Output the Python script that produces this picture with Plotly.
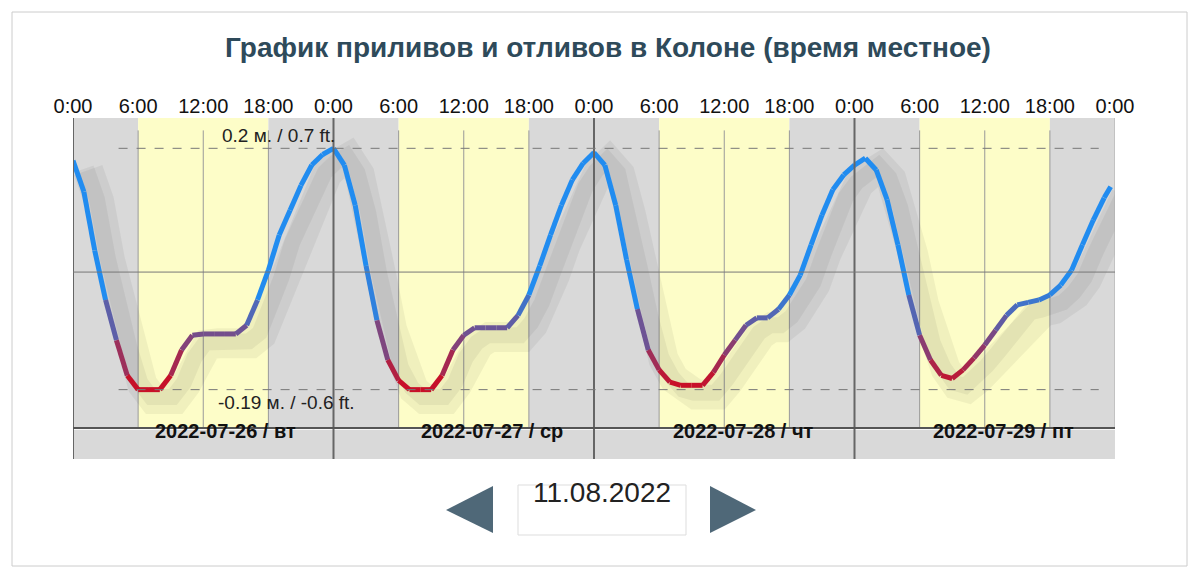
import plotly.graph_objects as go

# tide heights (m), hourly, 4 days from 2022-07-26 0:00
hours = list(range(0, 96)) + [95.6]
heights = [
    0.18, 0.13, 0.035, -0.045, -0.11, -0.167, -0.19, -0.19, -0.19, -0.167, -0.126, -0.102,
    -0.1, -0.1, -0.1, -0.1, -0.086, -0.045, 0.003, 0.06, 0.10, 0.14, 0.173, 0.19,
    0.20, 0.173, 0.108, 0.01, -0.078, -0.142, -0.175, -0.19, -0.19, -0.19, -0.167, -0.126,
    -0.102, -0.09, -0.09, -0.09, -0.09, -0.07, -0.037, 0.01, 0.06, 0.108, 0.149, 0.176,
    0.193, 0.173, 0.108, 0.02, -0.06, -0.126, -0.158, -0.178, -0.183, -0.183, -0.183, -0.162,
    -0.134, -0.11, -0.086, -0.074, -0.074, -0.06, -0.037, -0.005, 0.044, 0.092, 0.133, 0.157,
    0.173, 0.184, 0.165, 0.117, 0.044, -0.037, -0.102, -0.142, -0.167, -0.172, -0.158, -0.139,
    -0.118, -0.094, -0.07, -0.053, -0.049, -0.045, -0.037, -0.021, 0.003, 0.044, 0.084, 0.12,
    0.138,
]
tick_hours = list(range(0, 97, 6))
tick_text = ["0:00", "6:00", "12:00", "18:00"] * 4 + ["0:00"]
day_labels = ["2022-07-26 / вт", "2022-07-27 / ср", "2022-07-28 / чт", "2022-07-29 / пт"]
hi_label = "0.2 м. / 0.7 ft."
lo_label = "-0.19 м. / -0.6 ft."

Y0, Y1 = -0.252, 0.249
fig = go.Figure()


def mix(v):
    # blue at high tide -> red at low tide
    t = min(max((v + 0.02) / -0.16, 0), 1)
    b = (33, 140, 240)
    r = (200, 16, 40)
    return "rgb(%d,%d,%d)" % tuple(int(b[i] + (r[i] - b[i]) * t) for i in range(3))


# soft shadow
fig.add_trace(go.Scatter(x=[h + 1.4 for h in hours], y=[v - 0.015 for v in heights], mode="lines",
                         line=dict(color="rgba(0,0,0,0.05)", width=30), hoverinfo="skip"))
fig.add_trace(go.Scatter(x=[h + 1.2 for h in hours], y=[v - 0.012 for v in heights], mode="lines",
                         line=dict(color="rgba(0,0,0,0.05)", width=16), hoverinfo="skip"))

for i in range(len(hours) - 1):
    fig.add_trace(go.Scatter(x=hours[i:i + 2], y=heights[i:i + 2], mode="lines",
                             line=dict(color=mix((heights[i] + heights[i + 1]) / 2), width=5),
                             hoverinfo="skip"))

shapes = []
for d in range(4):
    s = d * 24
    for a, b, c in [(s, s + 6, "#d9d9d9"), (s + 6, s + 18, "#fdfdc8"), (s + 18, s + 24, "#d9d9d9")]:
        shapes.append(dict(type="rect", xref="x", yref="paper", x0=a, x1=b, y0=0, y1=1,
                           fillcolor=c, line_width=0, layer="below"))
    for g in (6, 12, 18):
        shapes.append(dict(type="line", xref="x", yref="paper", x0=s + g, x1=s + g, y0=0, y1=0.96,
                           line=dict(color="#999", width=1), layer="below"))
# date strip
shapes.append(dict(type="rect", xref="x", yref="paper", x0=0, x1=96, y0=-0.1, y1=-0.006,
                   fillcolor="#d9d9d9", line_width=0))
for d in range(4):
    shapes.append(dict(type="line", xref="x", yref="paper", x0=d * 24, x1=d * 24, y0=-0.1, y1=1,
                       line=dict(color="#666", width=2)))
shapes.append(dict(type="line", xref="x", yref="paper", x0=96, x1=96, y0=0, y1=1,
                   line=dict(color="#aaa", width=1)))
# horizontal lines
for yv, col, dash, x0, x1 in [(0, "#777", "solid", -2.1, 98.7), (0.2, "#777", "dash", 4.2, 94.5),
                              (-0.19, "#777", "dash", 4.2, 94.5)]:
    shapes.append(dict(type="line", xref="x", yref="y", x0=x0, x1=x1, y0=yv, y1=yv,
                       line=dict(color=col, width=1, dash=dash)))
shapes.append(dict(type="line", xref="x", yref="paper", x0=-2.1, x1=98.7, y0=0, y1=0,
                   line=dict(color="#555", width=2)))


# navigation arrows and date box (screen pixel -> paper)
def px(x):
    return (x - 73) / 1042


def py(y):
    return (428 - y) / 310


shapes.append(dict(type="path", xref="paper", yref="paper",
                   path="M %f %f L %f %f L %f %f Z" % (px(493), py(486), px(493), py(533), px(446), py(510)),
                   fillcolor="#4f6878", line_width=0))
shapes.append(dict(type="path", xref="paper", yref="paper",
                   path="M %f %f L %f %f L %f %f Z" % (px(710), py(486), px(710), py(533), px(756), py(510)),
                   fillcolor="#4f6878", line_width=0))
shapes.append(dict(type="rect", xref="paper", yref="paper", x0=px(518), x1=px(686), y0=py(535), y1=py(485),
                   fillcolor="white", line=dict(color="#ddd", width=1)))
shapes.append(dict(type="rect", xref="paper", yref="paper", x0=px(12), x1=px(1187), y0=py(566), y1=py(12),
                   fillcolor="rgba(0,0,0,0)", line=dict(color="#ccc", width=1), layer="below"))

annotations = [
    dict(x=hours[0] + 18.9, y=0.2, yref="y", text=hi_label, showarrow=False, yanchor="bottom",
         font=dict(size=19, color="#222")),
    dict(x=19.7, y=-0.19, yref="y", text=lo_label, showarrow=False, yanchor="top",
         font=dict(size=19, color="#222")),
    dict(x=px(518 + 84), y=py(510), xref="paper", yref="paper", text="11.08.2022", showarrow=False,
         font=dict(size=28, color="#222")),
]
label_px = [225, 492, 743, 1003]
for lab, lx in zip(day_labels, label_px):
    annotations.append(dict(x=(lx - 73) / 10.854, y=-0.053, yref="paper", text="<b>%s</b>" % lab,
                            showarrow=False, font=dict(size=20, color="#111")))

fig.update_layout(
    width=1200, height=577,
    margin=dict(l=65, r=93, t=110, b=157),
    paper_bgcolor="white", plot_bgcolor="white",
    showlegend=False,
    font=dict(family="Liberation Sans, Arial", color="#111"),
    title=dict(text="<b>График приливов и отливов в Колоне (время местное)</b>",
               x=0.5, xanchor="center", y=0.932, yanchor="middle",
               font=dict(size=28, color="#2e4a5a")),
    xaxis=dict(range=[0, 96], side="top", tickvals=tick_hours, ticktext=tick_text,
               showgrid=False, zeroline=False, ticks="", tickfont=dict(size=20, color="#111")),
    yaxis=dict(range=[Y0, Y1], visible=False),
    shapes=shapes, annotations=annotations,
)

fig.write_html("out.html")
